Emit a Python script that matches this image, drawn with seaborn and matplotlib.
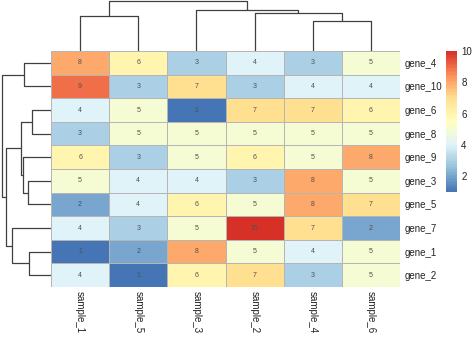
import numpy as np
import pandas as pd
import matplotlib
matplotlib.use("Agg")
import matplotlib.pyplot as plt
from matplotlib.colors import LinearSegmentedColormap
import seaborn as sns

genes = ["gene_4", "gene_10", "gene_6", "gene_8", "gene_9",
         "gene_3", "gene_5", "gene_7", "gene_1", "gene_2"]
samples = ["sample_1", "sample_5", "sample_3", "sample_2", "sample_4", "sample_6"]

gene_4 = [8, 6, 3, 4, 3, 5]
gene_10 = [9, 3, 7, 3, 4, 4]
gene_6 = [4, 5, 1, 7, 7, 6]
gene_8 = [3, 5, 5, 5, 5, 5]
gene_9 = [6, 3, 5, 6, 5, 8]
gene_3 = [5, 4, 4, 3, 8, 5]
gene_5 = [2, 4, 6, 5, 8, 7]
gene_7 = [4, 3, 5, 10, 7, 2]
gene_1 = [1, 2, 8, 5, 4, 5]
gene_2 = [4, 1, 6, 7, 3, 5]

# dendrogram merges (left id, right id, height) in display-leaf order
row_merges = [(0, 1, 27), (2, 3, 19), (5, 6, 23), (8, 9, 22), (4, 12, 28),
              (11, 14, 30), (7, 13, 39), (15, 16, 45), (10, 17, 48.7)]
col_merges = [(0, 1, 35), (4, 5, 30), (3, 7, 38), (2, 8, 41), (6, 9, 50)]

colorbar_ticks = [2, 4, 6, 8, 10]

df = pd.DataFrame([gene_4, gene_10, gene_6, gene_8, gene_9,
                   gene_3, gene_5, gene_7, gene_1, gene_2],
                  index=genes, columns=samples)

palette = ["#4575B4", "#91BFDB", "#E0F3F8", "#FFFFBF", "#FEE090", "#FC8D59", "#D73027"]
cmap = LinearSegmentedColormap.from_list("rdylbu_r", palette, N=100)

plt.rcParams["font.family"] = ["Liberation Sans", "DejaVu Sans"]

W, H = 474, 338
fig = plt.figure(figsize=(W / 100, H / 100), dpi=100)

def rect(x0, y0, x1, y1):
    return [x0 / W, 1 - y1 / H, (x1 - x0) / W, (y1 - y0) / H]

ax = fig.add_axes(rect(51, 51, 400, 287))
cax = fig.add_axes(rect(446, 51, 457, 192))
rax = fig.add_axes(rect(0, 51, 51, 287))
tax = fig.add_axes(rect(51, 0, 400, 51))

sns.heatmap(df, ax=ax, cmap=cmap, vmin=df.values.min(), vmax=df.values.max(),
            annot=True, fmt="d", annot_kws={"color": "#505050", "fontsize": 5},
            linewidths=0.6, linecolor="#b5b5b5", cbar_ax=cax)

ax.yaxis.tick_right()
ax.set_yticklabels(genes, rotation=0, fontsize=7, color="#222222")
ax.set_xticklabels(samples, rotation=270, fontsize=7, color="#222222", va="top")
ax.tick_params(length=0, pad=3)
ax.set_xlabel("")
ax.set_ylabel("")

cb = ax.collections[0].colorbar
cb.outline.set_visible(False)
cb.set_ticks(colorbar_ticks)
cb.ax.tick_params(length=0, labelsize=7, pad=3, labelcolor="#222222")


def draw_dendro(axis, merges, n, orient):
    pos = {i: i + 0.5 for i in range(n)}
    hgt = {i: 0.0 for i in range(n)}
    nid = n
    for a, b, h in merges:
        pa, pb = pos[a], pos[b]
        ha, hb = hgt[a], hgt[b]
        xs_pos = [pa, pa, pb, pb]
        xs_h = [ha, h, h, hb]
        if orient == "top":
            axis.plot(xs_pos, xs_h, color="#404040", lw=0.9, solid_capstyle="butt")
        else:
            axis.plot(xs_h, xs_pos, color="#404040", lw=0.9, solid_capstyle="butt")
        pos[nid] = (pa + pb) / 2
        hgt[nid] = h
        nid += 1
    axis.set_axis_off()


draw_dendro(rax, row_merges, len(genes), "left")
rax.set_ylim(len(genes), 0)
rax.set_xlim(51, 0)

draw_dendro(tax, col_merges, len(samples), "top")
tax.set_xlim(0, len(samples))
tax.set_ylim(0, 51)

fig.savefig("out.png", dpi=100)
